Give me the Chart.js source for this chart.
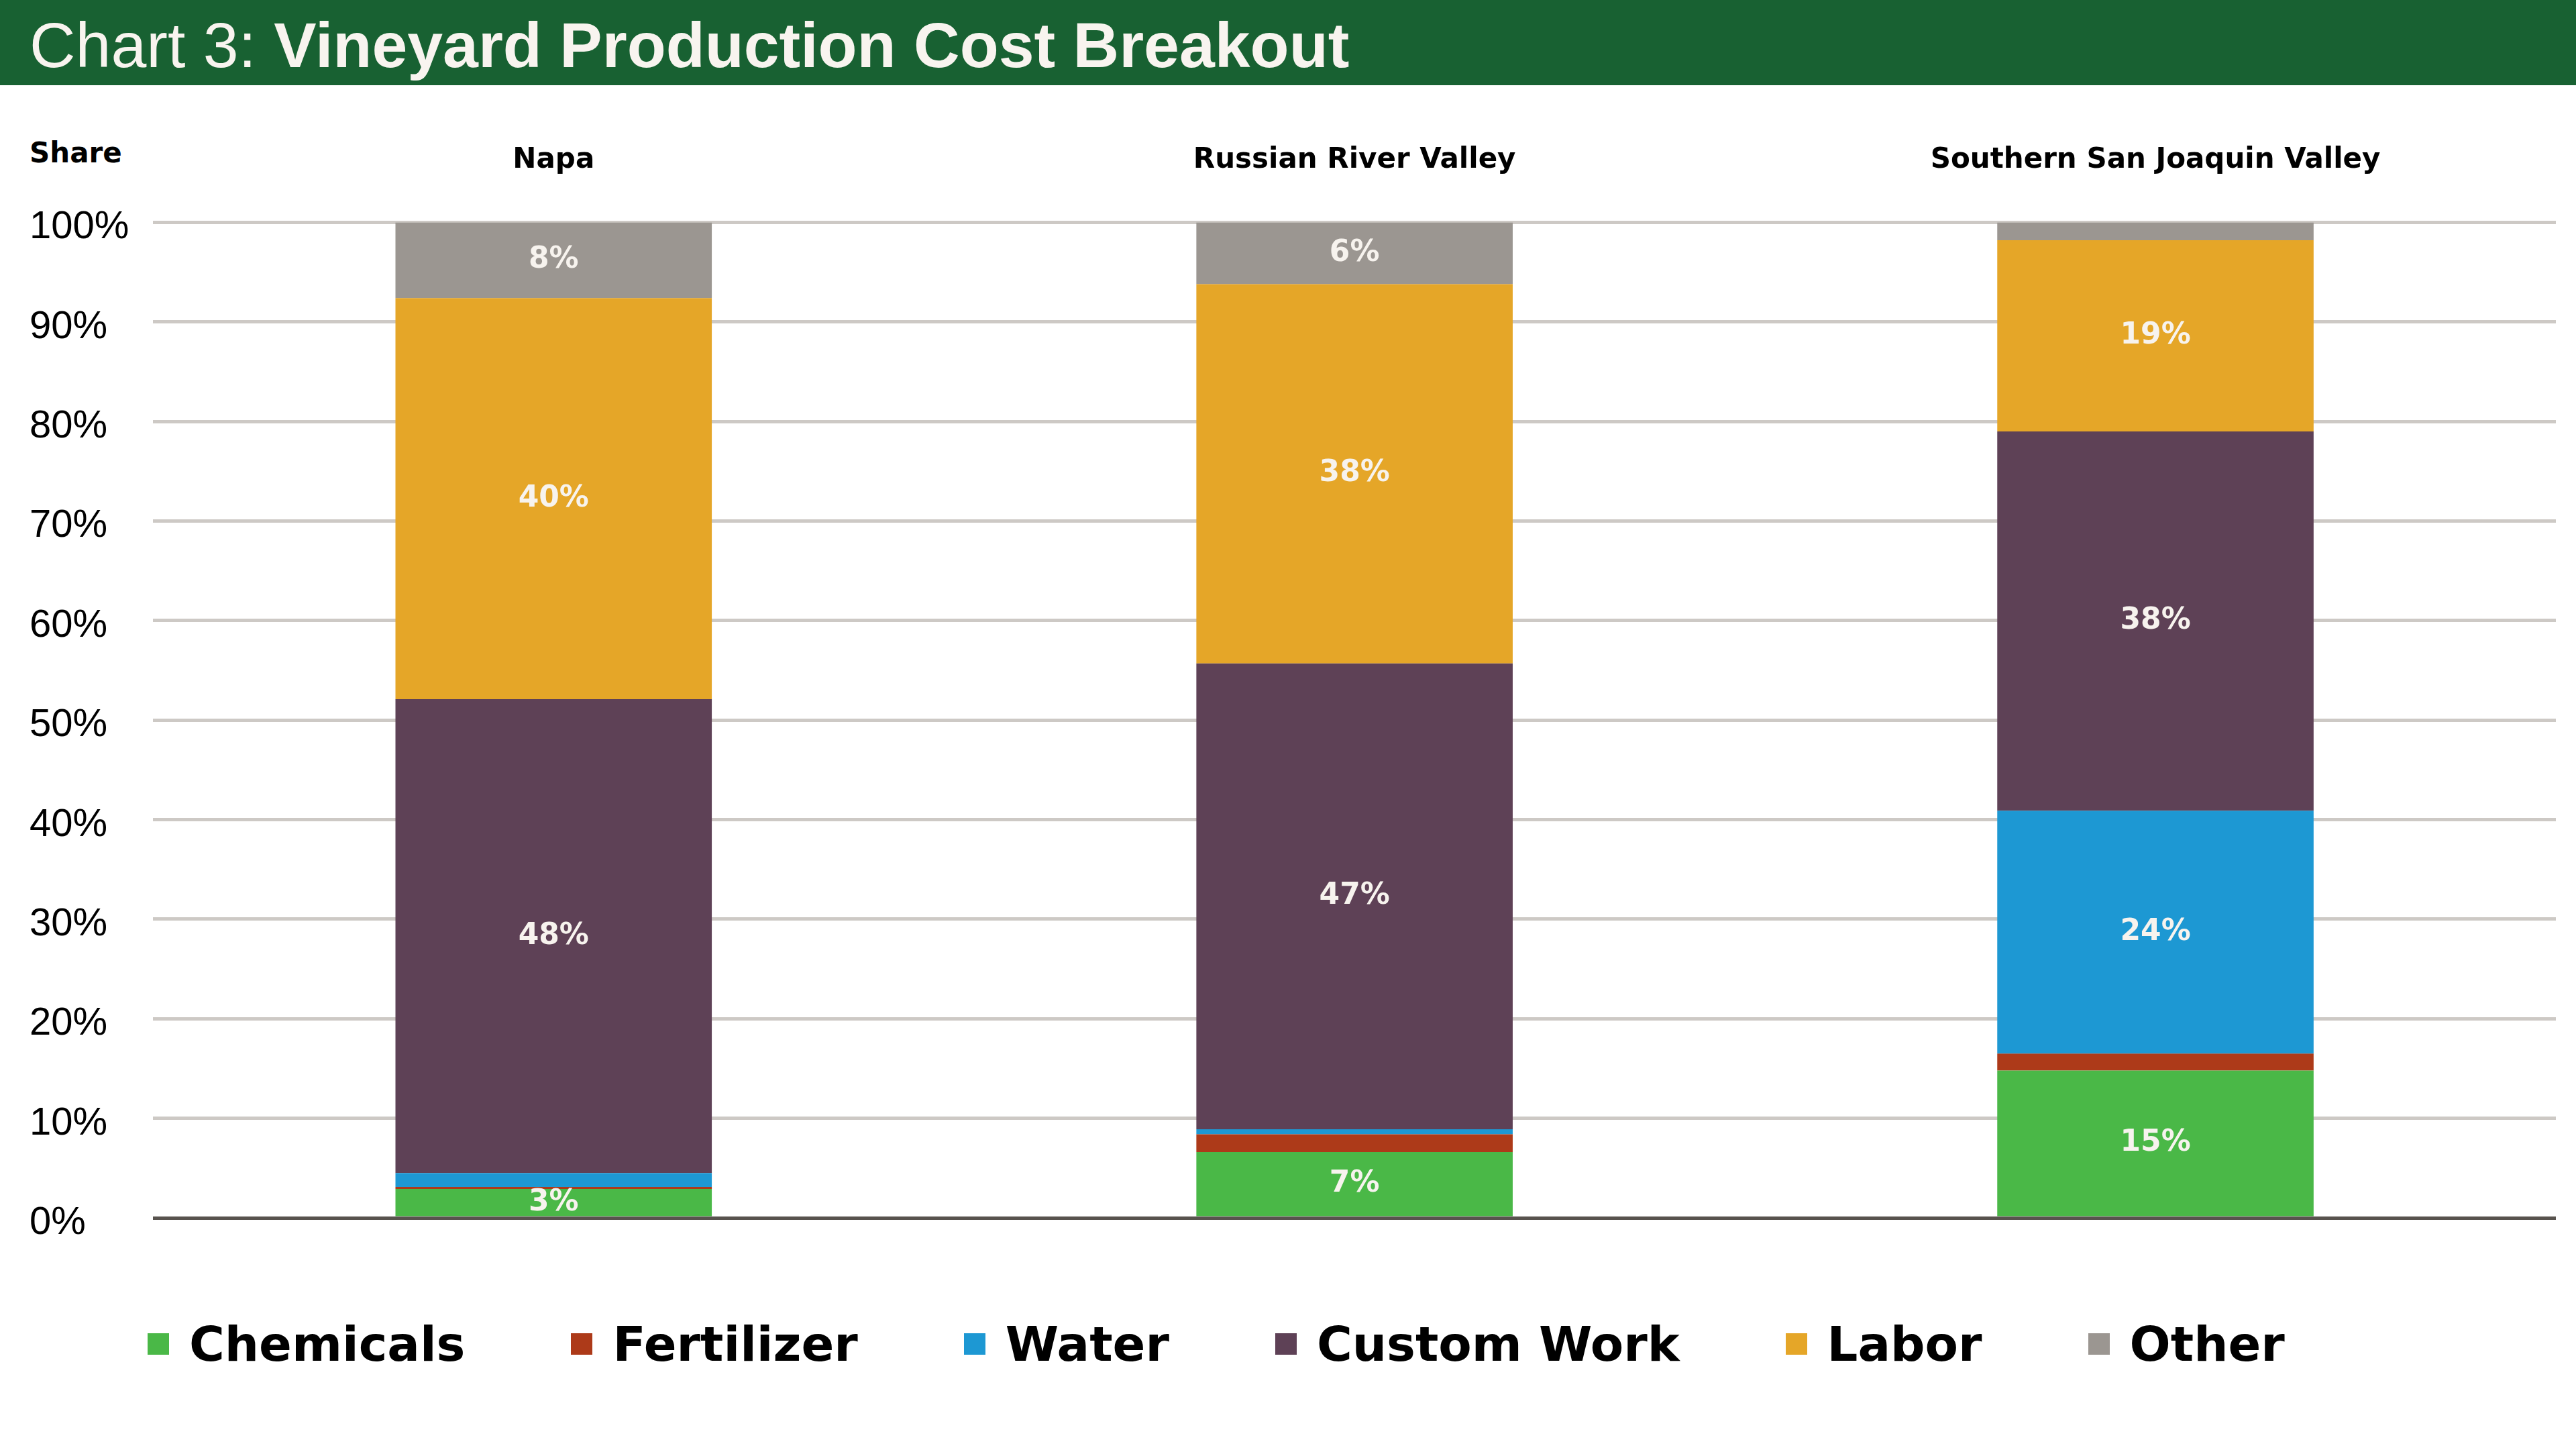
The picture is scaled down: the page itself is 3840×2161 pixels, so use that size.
<!DOCTYPE html>
<html>
<head>
<meta charset="utf-8">
<title>Vineyard Production Cost Breakout</title>
<script src="https://cdn.jsdelivr.net/npm/chart.js@4/dist/chart.umd.min.js"></script>
<style>
  body { margin: 0; background: #fff; width: 3840px; height: 2161px; overflow: hidden; position: relative; }
  #titre { position: absolute; left: 0; top: 0; width: 3840px; height: 127px; background: #186132; color: #f8f4ef;
           font-family: "Liberation Sans", Arial, sans-serif; font-size: 95px; line-height: 127px;
           padding-left: 44px; box-sizing: border-box; white-space: nowrap; }
  #titre span { position: relative; top: 4px; }
  #share { position: absolute; left: 44px; top: 203px; font-family: "DejaVu Sans"; font-weight: bold;
           font-size: 42px; line-height: 50px; color: #000; }
  #zone { position: absolute; left: 0; top: 127px; width: 3840px; height: 2034px; }
  #legende { position: absolute; left: 220px; top: 1963px; height: 80px; display: flex; align-items: center;
             font-family: "DejaVu Sans"; font-weight: bold; font-size: 72px; color: #000; }
  #legende .item { display: flex; align-items: center; margin-right: 158px; }
  #legende .carre { width: 32px; height: 32px; margin-right: 30px; }
</style>
</head>
<body>
<div id="titre"><span>Chart 3: <b>Vineyard Production Cost Breakout</b></span></div>
<div id="share">Share</div>
<div id="zone"><canvas id="couts"></canvas></div>
<div id="legende"></div>
<script>
// les données
var regions = ['Napa', 'Russian River Valley', 'Southern San Joaquin Valley'];
var chemicals = [2.9, 6.6, 14.8];
var fertilizer = [0.2, 1.8, 1.7];
var water = [1.4, 0.5, 24.4];
var customWork = [47.6, 46.8, 38.1];
var labor = [40.3, 38.1, 19.2];
var other = [7.6, 6.2, 1.8];

// étiquettes blanches au milieu des segments
var etiquettes = {
  id: 'etiquettes',
  afterDatasetsDraw: function (chart) {
    var ctx = chart.ctx;
    ctx.save();
    ctx.font = 'bold 44px "DejaVu Sans"';
    ctx.fillStyle = '#f7f3ee';
    ctx.textAlign = 'center';
    ctx.textBaseline = 'middle';
    chart.data.datasets.forEach(function (ds, i) {
      var meta = chart.getDatasetMeta(i);
      meta.data.forEach(function (bar, j) {
        var v = ds.data[j];
        if (v < 2.5) return;
        var p = bar.getProps(['x', 'y', 'base'], true);
        ctx.fillText(Math.round(v) + '%', p.x, (p.y + p.base) / 2);
      });
    });
    ctx.restore();
  }
};

var canvas = document.getElementById('couts');
var chart = new Chart(canvas, {
  type: 'bar',
  data: {
    labels: regions,
    datasets: [
      { label: 'Chemicals', data: chemicals, backgroundColor: '#4ab847' },
      { label: 'Fertilizer', data: fertilizer, backgroundColor: '#ad3a19' },
      { label: 'Water', data: water, backgroundColor: '#1d98d3' },
      { label: 'Custom Work', data: customWork, backgroundColor: '#5e4156' },
      { label: 'Labor', data: labor, backgroundColor: '#e5a628' },
      { label: 'Other', data: other, backgroundColor: '#9b9691' }
    ]
  },
  options: {
    responsive: true,
    maintainAspectRatio: false,
    animation: false,
    categoryPercentage: 1,
    barPercentage: 0.395,
    layout: { padding: { left: 44, right: 30, top: 20, bottom: 346 } },
    plugins: {
      legend: { display: false },
      tooltip: { enabled: false }
    },
    scales: {
      x: {
        position: 'top',
        stacked: true,
        grid: { display: false, drawTicks: false },
        border: { display: false },
        ticks: {
          padding: 67,
          color: '#000',
          font: { family: '"DejaVu Sans"', weight: 'bold', size: 42 }
        }
      },
      y: {
        stacked: true,
        min: 0,
        max: 100,
        border: { display: false },
        grid: {
          drawTicks: false,
          lineWidth: 5,
          color: function (c) { return c.tick && c.tick.value === 0 ? '#58534e' : '#cdc9c5'; }
        },
        ticks: {
          stepSize: 10,
          crossAlign: 'far',
          padding: 18,
          labelOffset: 8,
          color: '#000',
          font: { family: '"Liberation Sans"', size: 58 },
          callback: function (v) { return v + '%'; }
        }
      }
    }
  },
  plugins: [etiquettes]
});

// légende en html, construite depuis les datasets
var legende = document.getElementById('legende');
chart.data.datasets.forEach(function (ds) {
  var item = document.createElement('div');
  item.className = 'item';
  var carre = document.createElement('div');
  carre.className = 'carre';
  carre.style.background = ds.backgroundColor;
  var texte = document.createElement('span');
  texte.textContent = ds.label;
  item.appendChild(carre);
  item.appendChild(texte);
  legende.appendChild(item);
});
</script>
</body>
</html>
